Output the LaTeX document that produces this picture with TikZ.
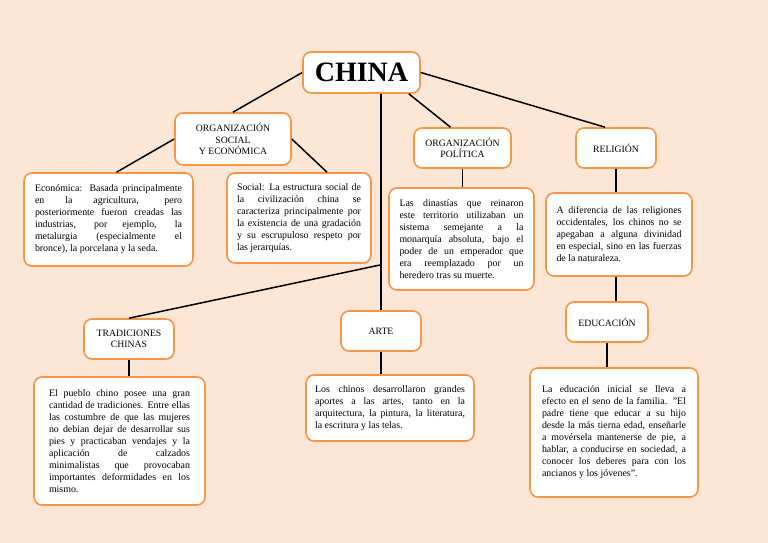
\documentclass[tikz,border=0pt]{standalone}
\usepackage{fontspec}
\setmainfont{Liberation Serif}
\definecolor{peach}{HTML}{FCE6D6}
\definecolor{boxorange}{HTML}{F79646}
\hbadness=10000
\begin{document}
\begin{tikzpicture}[x=1pt,y=-1pt,
  box/.style={draw=boxorange,line width=1.6pt,fill=white,rounded corners=8pt,inner sep=0pt},
  labelbox/.style={box,align=center,font=\fontsize{9.7}{11.5}\selectfont},
  textbox/.style={box,align=justify,font=\fontsize{9.9}{12}\selectfont},
  link/.style={line width=1.5pt}]
\fill[peach] (0,0) rectangle (768,543);
\useasboundingbox (0,0) rectangle (768,543);
% headings
\node[box,font=\fontsize{28}{30}\selectfont\bfseries,minimum width=117pt,minimum height=41pt] (china) at (361.5,72.5) {CHINA};
\node[labelbox,minimum width=116pt,minimum height=52pt] (orgsoc) at (233,139) {ORGANIZACIÓN\\SOCIAL\\Y ECONÓMICA};
\node[labelbox,minimum width=97pt,minimum height=40pt] (orgpol) at (462.5,148) {ORGANIZACIÓN\\POLÍTICA};
\node[labelbox,minimum width=80pt,minimum height=40pt] (relig) at (616,148) {RELIGIÓN};
\node[labelbox,minimum width=82pt,minimum height=40pt] (educ) at (607,322) {EDUCACIÓN};
\node[labelbox,minimum width=80pt,minimum height=40pt] (arte) at (381,331) {ARTE};
\node[labelbox,minimum width=90pt,minimum height=40pt] (trad) at (129,339) {TRADICIONES\\CHINAS};
% texts
\node[textbox,text width=147pt,minimum width=169pt,minimum height=93pt] (econ) at (108.5,219.5) {Económica: Basada principalmente\linebreak en la agricultura, pero\linebreak posteriormente fueron creadas las\linebreak industrias, por ejemplo, la\linebreak metalurgia (especialmente el\linebreak bronce), la porcelana y la seda.};
\node[textbox,text width=124pt,minimum width=144pt,minimum height=90pt] (social) at (299,218) {Social: La estructura social de\linebreak la civilización china se\linebreak caracteriza principalmente por\linebreak la existencia de una gradación\linebreak y su escrupuloso respeto por\linebreak las jerarquías.};
\node[textbox,text width=124pt,minimum width=145pt,minimum height=102pt] (polit) at (461.5,239) {Las dinastías que reinaron\linebreak este territorio utilizaban un\linebreak sistema semejante a la\linebreak monarquía absoluta, bajo el\linebreak poder de un emperador que\linebreak era reemplazado por un\linebreak heredero tras su muerte.};
\node[textbox,text width=125pt,minimum width=146pt,minimum height=83pt] (religtext) at (619,234.5) {A diferencia de las religiones\linebreak occidentales, los chinos no se\linebreak apegaban a alguna divinidad\linebreak en especial, sino en las fuerzas\linebreak de la naturaleza.};
\node[textbox,text width=144pt,minimum width=168pt,minimum height=129pt] (eductext) at (614,432.5) {La educación inicial se lleva a\linebreak efecto en el seno de la familia. "El\linebreak padre tiene que educar a su hijo\linebreak desde la más tierna edad, enseñarle\linebreak a movérsela mantenerse de pie, a\linebreak hablar, a conducirse en sociedad, a\linebreak conocer los deberes para con los\linebreak ancianos y los jóvenes".};
\node[textbox,text width=150pt,minimum width=168pt,minimum height=66pt] (artetext) at (390,408) {Los chinos desarrollaron grandes\linebreak aportes a las artes, tanto en la\linebreak arquitectura, la pintura, la literatura,\linebreak la escritura y las telas.};
\node[textbox,text width=141pt,minimum width=171pt,minimum height=128pt] (tradtext) at (119.5,441) {El pueblo chino posee una gran\linebreak cantidad de tradiciones. Entre ellas\linebreak las costumbre de que las mujeres\linebreak no debian dejar de desarrollar sus\linebreak pies y practicaban vendajes y la\linebreak aplicación de calzados\linebreak minimalistas que provocaban\linebreak importantes deformidades en los\linebreak mismo.};
% connectors
\coordinate (junction) at (380,265);
\draw[link] (china.west) -- (orgsoc.north);
\draw[link] (china.south -| arte.north) -- (arte.north);
\draw[link] (junction) -- (trad.north);
\draw[link] ([xshift=-12pt]china.south east) -- ([xshift=-12pt]orgpol.north);
\draw[link] (china.east) -- ([xshift=-11pt]relig.north);
\draw[link] (orgsoc.west) -- ([xshift=8pt]econ.north);
\draw[link] (orgsoc.east) -- ([xshift=28pt]social.north);
\draw[link] (orgpol.south) -- (orgpol.south |- polit.north);
\draw[link] (relig.south) -- (relig.south |- religtext.north);
\draw[link] (religtext.south -| relig.south) -- (educ.north -| relig.south);
\draw[link] (educ.south) -- (educ.south |- eductext.north);
\draw[link] (arte.south) -- (arte.south |- artetext.north);
\draw[link] (trad.south) -- (trad.south |- tradtext.north);
\end{tikzpicture}
\end{document}
